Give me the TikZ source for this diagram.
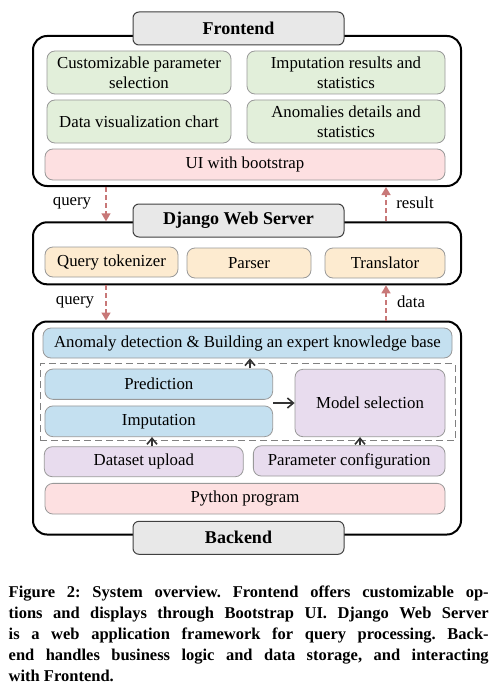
\documentclass[tikz,border=0pt]{standalone}
\usepackage{fontspec}
\setmainfont{Liberation Serif}
\usetikzlibrary{arrows.meta}
\definecolor{gfill}{HTML}{E2EFDA}
\definecolor{pfill}{HTML}{FDE0E1}
\definecolor{ofill}{HTML}{FDEBD0}
\definecolor{bfill}{HTML}{C4E0F0}
\definecolor{vfill}{HTML}{E8DCEE}
\definecolor{tfill}{HTML}{E8E8E8}
\definecolor{redarr}{HTML}{C87878}
\definecolor{darkarr}{HTML}{333333}
\newcommand{\capfont}{\fontsize{16.5}{21}\selectfont\bfseries\frenchspacing}
\begin{document}
\begin{tikzpicture}[x=1pt,y=-1pt,
  outer/.style={draw=black, line width=2pt, rounded corners=14pt, fill=white, inner sep=0pt},
  titlebox/.style={draw=black!75, line width=1pt, fill=tfill, rounded corners=6pt, inner sep=0pt,
    font=\fontsize{18}{21}\selectfont\bfseries, minimum width=211pt, minimum height=33pt},
  cbox/.style={draw=black!40, line width=0.8pt, rounded corners=8pt, inner sep=0pt, align=center,
    font=\fontsize{16.8}{20}\selectfont},
  redarrow/.style={draw=redarr, line width=1.4pt, dash pattern=on 5pt off 3pt,
    -{Triangle[length=8pt,width=9pt]}},
  darrow/.style={draw=darkarr, line width=1.6pt, -{Straight Barb[length=6pt,width=10pt]}},
  lbl/.style={inner sep=0pt, font=\fontsize{16.8}{20}\selectfont},
]
\useasboundingbox (0,0) rectangle (497,690);

% ---------------- Frontend ----------------
\node[outer, minimum width=428pt, minimum height=150pt] (fe) at (247,111) {};
\node[titlebox] (fet) at (238.5,28.5) {Frontend};
\node[cbox, fill=gfill, minimum width=184pt, minimum height=43pt] (cps) at (139,72.5) {Customizable parameter\\selection};
\node[cbox, fill=gfill, minimum width=198pt, minimum height=43pt] (irs) at (346,72.5) {Imputation results and\\statistics};
\node[cbox, fill=gfill, minimum width=184pt, minimum height=43pt] (dvc) at (139,121.5) {Data visualization chart};
\node[cbox, fill=gfill, minimum width=198pt, minimum height=43pt] (ads) at (346,121.5) {Anomalies details and\\statistics};
\node[cbox, fill=pfill, minimum width=400pt, minimum height=31pt] (ui) at (245,164.5) {UI with bootstrap};

% ---------------- Django ----------------
\node[outer, minimum width=428pt, minimum height=62pt] (dj) at (247,253.3) {};
\node[titlebox] (djt) at (238.5,220.5) {Django Web Server};
\node[cbox, fill=ofill, minimum width=133pt, minimum height=30pt] (qt) at (111.5,262) {Query tokenizer};
\node[cbox, fill=ofill, minimum width=124pt, minimum height=30pt] (pa) at (249,263) {Parser};
\node[cbox, fill=ofill, minimum width=120pt, minimum height=30pt] (tr) at (385,263) {Translator};

% ---------------- Backend ----------------
\node[outer, minimum width=428pt, minimum height=213pt] (be) at (247,428) {};
\node[titlebox] (bet) at (238.5,537.8) {Backend};
\node[cbox, fill=bfill, minimum width=409pt, minimum height=30pt] (an) at (247.5,343) {Anomaly detection \& Building an expert knowledge base};
\node[draw=black!50, line width=1pt, dash pattern=on 7pt off 4pt, minimum width=415pt, minimum height=76.7pt, inner sep=0pt] (grp) at (247.5,402.3) {};
\node[cbox, fill=bfill, minimum width=227.7pt, minimum height=30.3pt] (pr) at (158.8,384.2) {Prediction};
\node[cbox, fill=bfill, minimum width=227.7pt, minimum height=30.7pt] (im) at (158.8,421.3) {Imputation};
\node[cbox, fill=vfill, minimum width=150pt, minimum height=67.4pt] (ms) at (370,403) {Model selection};
\node[cbox, fill=vfill, minimum width=199pt, minimum height=30pt] (du) at (143.8,461.7) {Dataset upload};
\node[cbox, fill=vfill, minimum width=191.7pt, minimum height=30.3pt] (pc) at (349.2,460.9) {Parameter configuration};
\node[cbox, fill=pfill, minimum width=400pt, minimum height=30.7pt] (py) at (245,498.7) {Python program};

% ---------------- connectors ----------------
\coordinate (xl) at (106,0);
\coordinate (xr) at (386,0);
\draw[redarrow] (fe.south -| xl) -- (dj.north -| xl);
\draw[redarrow] (dj.north -| xr) -- (fe.south -| xr);
\draw[redarrow] (dj.south -| xl) -- (be.north -| xl);
\draw[redarrow] (be.north -| xr) -- (dj.south -| xr);
\node[lbl] (l1) at (72,203) {query};
\node[lbl] (l2) at (415,203) {result};
\node[lbl] (l3) at (75,302) {query};
\node[lbl] (l4) at (411,302) {data};

\coordinate (xa) at (250,0);
\coordinate (xb) at (152,0);
\coordinate (xc) at (360,0);
\draw[darrow] ([yshift=-5pt]grp.north -| xa) -- (an.south -| xa);
\draw[darrow] (pr.south east |- ms.west) -- (ms.west);
\draw[darrow] (du.north -| xb) -- (im.south -| xb);
\draw[darrow] (pc.north -| xc) -- (ms.south -| xc);

% ---------------- caption ----------------
\node[anchor=base west, inner sep=0pt] (c1) at (8.5,597) {\capfont\makebox[480pt][s]{Figure 2: System overview. Frontend offers customizable op-}};
\node[anchor=base west, inner sep=0pt] (c2) at (8.5,618.2) {\capfont\makebox[480pt][s]{tions and displays through Bootstrap UI. Django Web Server}};
\node[anchor=base west, inner sep=0pt] (c3) at (8.5,639.4) {\capfont\makebox[480pt][s]{is a web application framework for query processing. Back-}};
\node[anchor=base west, inner sep=0pt] (c4) at (8.5,660.6) {\capfont\makebox[480pt][s]{end handles business logic and data storage, and interacting}};
\node[anchor=base west, inner sep=0pt] (c5) at (8.5,681.8) {\capfont with Frontend.};
\end{tikzpicture}
\end{document}
